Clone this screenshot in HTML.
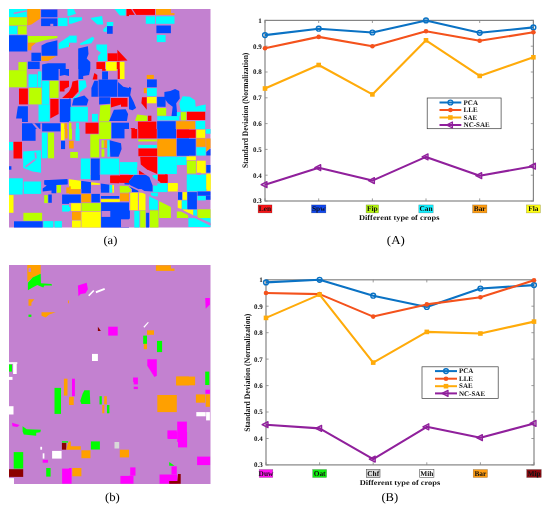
<!DOCTYPE html>
<html><head><meta charset="utf-8"><title>Figure</title>
<style>
html,body{margin:0;padding:0;background:#fff}
svg{display:block}
text{font-family:"Liberation Serif",serif;fill:#111;text-rendering:geometricPrecision}
.tk{font-size:7px;font-weight:bold}
.lg{font-size:7px;font-weight:bold}
.xl{font-size:7.4px;font-weight:bold}
.xt{font-size:7.3px;font-weight:bold}
.yt{font-size:8.4px;font-weight:bold}
.cap{font-size:12px;fill:#000}
</style></head><body>
<svg width="550" height="508" viewBox="0 0 550 508">
<rect width="550" height="508" fill="#fff"/>
<rect x="9" y="9" width="201.5" height="218.5" fill="#c381d0"/>
<g shape-rendering="auto"><polygon fill="#00ffff" points="9.0,9.0 26.7,9.0 26.7,17.0 9.0,17.0"/>
<polygon fill="#b9ff00" points="9.0,17.3 27.0,17.3 27.0,25.5 9.0,25.5"/>
<polygon fill="#00ffff" points="9.0,26.1 17.3,26.1 17.3,34.4 9.0,34.4"/>
<polygon fill="#b9ff00" points="17.9,26.1 26.7,26.1 26.7,34.4 17.9,34.4"/>
<polygon fill="#0048ff" points="9.0,35.2 27.3,35.2 27.3,51.5 9.0,51.5"/>
<polygon fill="#ffa000" points="27.3,9.0 40.3,9.0 40.3,18.4 31.4,24.4 27.3,25.5"/>
<polygon fill="#0048ff" points="41.1,9.6 57.4,9.6 57.4,17.3 41.1,17.3"/>
<polygon fill="#0048ff" points="41.1,18.4 57.4,18.4 57.4,26.1 41.1,26.1"/>
<polygon fill="#c381d0" points="50.3,23.8 53.3,23.8 53.3,26.1 50.3,26.1"/>
<polygon fill="#00ffff" points="58.0,17.9 67.5,17.9 67.5,26.1 58.0,26.1"/>
<polygon fill="#00ffff" points="67.5,9.0 69.0,9.0 69.0,16.1 67.5,16.1"/>
<polygon fill="#b9ff00" points="27.9,35.9 57.4,35.9 57.4,37.9 44.4,40.3 36.2,42.7 27.9,42.7"/>
<polygon fill="#ffa000" points="27.9,42.7 36.2,42.7 31.4,46.8 31.4,50.3 27.9,50.3"/>
<polygon fill="#0048ff" points="41.5,45.6 46.8,42.7 57.4,40.3 57.4,55.7 41.5,55.7"/>
<polygon fill="#00ffff" points="58.6,43.3 69.0,36.2 69.0,46.8 58.6,49.2"/>
<polygon fill="#0048ff" points="31.4,52.7 40.9,52.7 40.9,61.0 31.4,61.0"/>
<polygon fill="#ffa000" points="41.5,56.2 56.2,56.2 48.0,61.0 41.5,61.0"/>
<polygon fill="#0048ff" points="27.9,61.6 39.7,61.6 39.7,69.0 27.9,69.0"/>
<polygon fill="#b9ff00" points="18.4,62.1 26.7,62.1 26.7,69.0 18.4,69.0"/>
<polygon fill="#0048ff" points="42.1,64.5 48.0,63.3 65.7,63.3 65.7,69.0 42.1,69.0"/>
<polygon fill="#c381d0" points="13.7,12.5 26.7,10.2 26.7,11.4 13.7,14.3"/>
<polygon fill="#00ffff" points="69.0,9.0 73.7,9.0 76.1,13.7 69.0,16.1"/>
<polygon fill="#00ffff" points="69.0,17.3 82.0,17.3 82.0,20.2 71.4,23.8 69.0,23.8"/>
<polygon fill="#00ffff" points="90.3,17.9 102.1,16.1 103.3,24.4 97.3,24.4"/>
<polygon fill="#00ffff" points="114.5,9.0 125.7,9.0 125.7,15.5 119.8,15.5"/>
<polygon fill="#ff0000" points="126.5,9.0 129.0,9.0 129.0,16.1 126.5,16.1"/>
<polygon fill="#00ffff" points="106.8,22.0 113.3,22.0 113.3,26.1 106.8,26.1"/>
<polygon fill="#00ffff" points="103.3,29.1 106.8,26.1 106.8,32.0 103.3,31.4"/>
<polygon fill="#0048ff" points="107.0,26.1 112.7,26.1 112.7,33.8 107.0,33.8"/>
<polygon fill="#00ffff" points="69.0,35.6 76.7,35.6 76.7,42.7 69.0,42.7"/>
<polygon fill="#00ffff" points="79.6,43.8 92.6,36.8 94.4,38.5 91.4,43.3 80.8,45.0"/>
<polygon fill="#0048ff" points="78.2,48.6 87.9,46.2 88.5,53.9 86.7,58.6 90.3,62.1 90.3,69.0 78.2,69.0"/>
<polygon fill="#00ffff" points="96.4,44.4 107.0,44.4 107.0,61.0 97.9,61.0 97.9,56.2 100.9,52.7 96.4,49.2"/>
<polygon fill="#ff0000" points="107.7,53.3 117.4,53.3 117.4,61.0 107.7,61.0"/>
<polygon fill="#ff0000" points="117.4,49.7 127.5,60.4 117.4,61.0"/>
<polygon fill="#ff0000" points="96.4,62.1 105.0,62.1 105.0,69.0 96.4,69.0"/>
<polygon fill="#ffff00" points="105.9,61.8 116.8,61.8 116.8,69.0 105.9,69.0"/>
<polygon fill="#ff0000" points="116.8,61.8 119.8,61.8 119.8,69.0 116.8,69.0"/>
<polygon fill="#ffff00" points="119.8,61.8 124.5,61.8 124.5,69.0 119.8,69.0"/>
<polygon fill="#ffa000" points="69.0,45.0 69.9,45.0 69.9,46.8 69.0,46.8"/>
<polygon fill="#ff0000" points="129.0,9.0 155.0,9.0 155.0,14.9 129.0,14.9"/>
<polygon fill="#c381d0" points="131.1,9.0 132.5,9.0 136.3,14.9 134.9,14.9"/>
<polygon fill="#ffa000" points="155.9,9.0 170.9,9.0 170.9,14.9 155.9,14.9"/>
<polygon fill="#ffa000" points="170.9,13.1 174.5,13.1 174.5,14.9 170.9,14.9"/>
<polygon fill="#00ffff" points="145.8,16.3 155.0,16.3 155.0,23.8 145.8,23.8"/>
<polygon fill="#00ffff" points="155.9,16.3 174.5,16.3 174.5,23.8 155.9,23.8"/>
<polygon fill="#0048ff" points="156.4,25.5 170.9,25.5 170.9,33.2 156.4,33.2"/>
<polygon fill="#00ffff" points="156.8,35.0 165.6,35.0 165.6,42.1 156.8,42.1"/>
<polygon fill="#b9ff00" points="9.0,70.2 26.7,70.2 26.7,87.3 9.0,87.3"/>
<polygon fill="#b9ff00" points="18.4,69.0 26.7,69.0 26.7,70.4 18.4,70.4"/>
<polygon fill="#00ffff" points="28.5,74.3 37.3,74.3 37.3,87.3 28.5,87.3"/>
<polygon fill="#00ffff" points="37.9,71.4 41.5,71.4 41.5,87.3 37.9,87.3"/>
<polygon fill="#00ffff" points="42.1,80.8 49.2,80.8 49.2,104.4 42.1,104.4"/>
<polygon fill="#00ffff" points="38.5,104.4 49.7,104.4 49.7,121.6 38.5,121.6"/>
<polygon fill="#0048ff" points="42.1,69.0 58.6,69.0 58.6,80.2 42.1,80.2"/>
<polygon fill="#0048ff" points="59.8,69.0 69.0,69.0 69.0,76.1 64.5,74.9 59.8,76.1"/>
<polygon fill="#b9ff00" points="49.7,80.8 58.6,80.8 58.6,97.9 49.7,97.9"/>
<polygon fill="#ff0000" points="59.8,80.8 69.0,80.8 69.0,86.7 64.5,89.1 64.5,91.4 59.8,91.4"/>
<polygon fill="#ff0000" points="69.0,91.4 69.0,97.9 62.1,97.9"/>
<polygon fill="#ff0000" points="19.0,88.5 27.9,88.5 27.9,104.4 19.0,104.4"/>
<polygon fill="#b9ff00" points="28.8,87.9 41.5,87.9 41.5,104.4 28.8,104.4"/>
<polygon fill="#ff0000" points="50.3,99.1 58.6,99.1 58.6,113.9 50.3,118.6"/>
<polygon fill="#0048ff" points="59.8,99.1 69.0,99.1 69.0,122.1 59.8,122.1"/>
<polygon fill="#0048ff" points="17.9,106.2 27.9,106.2 27.9,122.1 22.0,122.1 22.0,118.6 16.1,118.6"/>
<polygon fill="#0048ff" points="22.0,123.3 60.4,123.3 60.4,129.0 22.0,129.0"/>
<polygon fill="#c381d0" points="32.0,123.3 34.4,123.3 39.7,129.0 36.8,129.0"/>
<polygon fill="#c381d0" points="40.3,123.3 42.1,123.3 42.1,129.0 40.3,129.0"/>
<polygon fill="#ffff00" points="61.0,123.3 64.5,123.3 64.5,129.0 61.0,129.0"/>
<polygon fill="#ffa000" points="64.5,123.3 66.9,123.3 66.9,129.0 64.5,129.0"/>
<polygon fill="#0048ff" points="78.4,69.0 90.3,69.0 89.1,74.9 83.2,76.1 83.2,79.0 78.4,79.0"/>
<polygon fill="#ff0000" points="94.4,73.1 97.3,74.9 97.3,79.6 92.6,79.6"/>
<polygon fill="#ff0000" points="102.1,69.0 105.6,69.0 105.6,70.8 102.1,70.8"/>
<polygon fill="#ffff00" points="106.2,69.0 116.8,69.0 116.8,70.8 106.2,70.8"/>
<polygon fill="#ff0000" points="117.7,69.0 119.8,69.0 119.8,79.0 117.7,79.0"/>
<polygon fill="#ffff00" points="120.0,69.0 124.5,69.0 124.5,79.0 120.0,79.0"/>
<polygon fill="#0048ff" points="102.1,71.4 108.0,71.4 108.0,79.6 102.1,79.6"/>
<polygon fill="#0048ff" points="98.5,79.6 117.4,79.6 117.4,96.8 98.5,96.8"/>
<polygon fill="#0048ff" points="94.4,80.8 97.9,80.8 97.9,96.8 91.4,96.8 91.4,87.9"/>
<polygon fill="#0048ff" points="118.0,82.0 123.3,86.7 129.0,87.9 129.0,96.8 118.0,96.8"/>
<polygon fill="#ff0000" points="72.5,81.4 77.9,80.2 78.4,91.4 72.5,97.9 69.0,97.9 69.0,91.4 71.4,86.7"/>
<polygon fill="#00ffff" points="79.0,80.8 85.5,80.2 86.7,86.7 80.8,91.4 79.0,93.8"/>
<polygon fill="#00ffff" points="72.5,99.1 79.0,93.2 80.2,94.4 73.7,100.3"/>
<polygon fill="#0048ff" points="73.7,98.5 84.4,95.6 88.5,99.7 86.7,105.6 72.0,105.6"/>
<polygon fill="#0048ff" points="69.0,98.5 70.8,98.5 70.8,121.0 69.0,121.0"/>
<polygon fill="#00ffff" points="70.4,106.8 87.9,106.8 87.9,121.6 70.4,121.6"/>
<polygon fill="#00ffff" points="92.0,113.9 97.9,113.9 97.9,121.6 92.0,121.6"/>
<polygon fill="#0048ff" points="99.1,97.3 110.3,97.3 110.3,103.8 99.1,104.4"/>
<polygon fill="#ff0000" points="110.9,97.9 127.5,97.9 127.5,106.8 121.0,106.8 121.0,104.4 110.9,107.4"/>
<polygon fill="#b9ff00" points="100.3,105.6 110.3,104.4 110.3,116.2 109.2,121.6 99.1,121.6"/>
<polygon fill="#0048ff" points="113.9,109.7 125.7,109.2 128.1,113.9 126.9,121.0 109.2,121.0"/>
<polygon fill="#b9ff00" points="69.0,122.7 71.4,122.7 71.4,129.0 69.0,129.0"/>
<polygon fill="#00ffff" points="76.1,122.7 79.0,122.7 79.0,129.0 76.1,129.0"/>
<polygon fill="#ff0000" points="85.5,122.7 98.5,122.7 98.5,129.0 85.5,129.0"/>
<polygon fill="#b9ff00" points="99.1,122.1 110.9,122.1 110.9,129.0 99.1,129.0"/>
<polygon fill="#0048ff" points="111.5,122.7 129.0,122.7 129.0,129.0 111.5,129.0"/>
<polygon fill="#ffa000" points="146.7,74.9 153.8,74.9 153.8,79.0 146.7,79.0"/>
<polygon fill="#0048ff" points="147.0,79.4 156.8,79.4 156.8,87.3 147.0,87.3"/>
<polygon fill="#ffa000" points="143.8,87.9 146.7,87.9 146.7,93.2 143.8,93.2"/>
<polygon fill="#00ffff" points="147.0,88.1 156.8,88.1 156.8,96.2 147.0,96.2"/>
<polygon fill="#ffff00" points="147.0,97.0 156.4,97.0 156.4,103.3 147.0,103.3"/>
<polygon fill="#ff0000" points="142.0,97.3 146.7,97.3 146.7,109.7 144.4,106.8 141.4,103.3"/>
<polygon fill="#0048ff" points="129.0,86.7 131.4,87.9 130.2,95.0 133.7,102.1 136.1,108.0 132.5,110.3 129.0,109.2"/>
<polygon fill="#0048ff" points="157.1,96.8 165.6,96.8 165.6,106.8 157.1,106.8"/>
<polygon fill="#0048ff" points="164.4,92.0 170.3,90.9 175.1,89.1 179.2,90.9 179.8,98.5 176.2,103.3 177.4,116.2 171.5,116.2 172.7,106.8 168.0,103.3 164.4,98.5"/>
<polygon fill="#b9ff00" points="157.1,108.0 166.2,108.0 166.2,115.7 157.1,115.7"/>
<polygon fill="#00ffff" points="157.3,116.2 179.2,116.2 179.2,120.4 157.3,120.4"/>
<polygon fill="#00ffff" points="176.8,112.1 180.4,112.1 180.4,116.2 176.8,116.2"/>
<polygon fill="#b9ff00" points="137.3,114.5 147.3,115.7 147.3,121.0 134.9,121.0"/>
<polygon fill="#ff0000" points="147.9,115.7 151.4,115.7 151.4,121.0 147.9,121.0"/>
<polygon fill="#ff0000" points="137.9,121.6 156.4,121.6 156.4,129.0 137.9,129.0"/>
<polygon fill="#0048ff" points="157.1,121.2 175.7,121.2 175.7,129.0 157.1,129.0"/>
<polygon fill="#ff0000" points="130.8,128.1 134.9,128.1 134.9,129.0 130.8,129.0"/>
<polygon fill="#00ffff" points="182.7,96.2 189.8,96.8 195.1,100.3 195.7,106.8 200.4,105.6 205.7,104.4 205.7,111.5 180.9,111.5 179.2,103.3"/>
<polygon fill="#ff0000" points="186.9,111.8 205.2,111.8 205.2,120.0 186.9,120.0"/>
<polygon fill="#b9ff00" points="180.9,112.1 186.3,112.1 186.3,120.4 180.9,120.4"/>
<polygon fill="#ffa000" points="176.2,121.2 195.1,121.2 195.1,129.0 176.2,129.0"/>
<polygon fill="#00ffff" points="195.7,121.0 205.2,121.0 205.2,129.0 195.7,129.0"/>
<polygon fill="#0048ff" points="22.0,129.0 35.6,129.0 35.6,140.8 22.0,140.8"/>
<polygon fill="#0048ff" points="42.1,129.0 60.4,129.0 60.4,131.4 42.1,131.4"/>
<polygon fill="#ffff00" points="61.0,129.0 64.5,129.0 64.5,140.2 61.0,140.2"/>
<polygon fill="#ffa000" points="65.1,129.0 67.5,129.0 67.5,138.4 65.1,138.4"/>
<polygon fill="#00ffff" points="9.0,142.0 13.1,142.0 13.1,150.3 9.0,150.3"/>
<polygon fill="#ff0000" points="13.5,141.8 22.0,141.8 22.0,158.5 13.5,158.5"/>
<polygon fill="#00ffff" points="41.8,132.5 47.4,132.5 47.4,158.3 41.8,158.3"/>
<polygon fill="#b9ff00" points="48.0,132.5 54.1,132.5 54.1,158.3 48.0,158.3"/>
<polygon fill="#0048ff" points="61.0,140.8 65.1,140.8 65.1,149.1 61.0,149.1"/>
<polygon fill="#00ffff" points="23.2,151.4 40.9,150.3 41.1,172.7 32.6,171.5 23.2,168.0"/>
<polygon fill="#c381d0" points="24.9,166.2 34.4,159.1 35.6,160.3 26.1,167.4"/>
<polygon fill="#c381d0" points="34.4,152.6 36.2,152.6 36.8,158.5 35.0,158.5"/>
<polygon fill="#0048ff" points="9.0,166.2 11.4,166.2 11.4,169.7 9.0,169.7"/>
<polygon fill="#00ffff" points="9.0,178.6 22.6,178.6 22.6,189.0 9.0,189.0"/>
<polygon fill="#00ffff" points="23.8,182.1 40.9,182.1 40.9,189.0 23.8,189.0"/>
<polygon fill="#0048ff" points="44.4,180.4 67.5,180.4 67.5,184.5 44.4,184.5"/>
<polygon fill="#0048ff" points="46.8,184.5 56.2,184.5 56.2,189.0 46.8,189.0"/>
<polygon fill="#b9ff00" points="56.8,185.7 61.0,185.7 61.0,189.0 56.8,189.0"/>
<polygon fill="#b9ff00" points="69.0,129.0 72.0,129.0 72.0,139.6 69.0,139.6"/>
<polygon fill="#00ffff" points="75.5,129.0 79.6,129.0 79.6,140.8 75.5,140.8"/>
<polygon fill="#ff0000" points="85.5,129.0 98.5,129.0 98.5,133.7 85.5,133.7"/>
<polygon fill="#b9ff00" points="99.1,129.0 110.9,129.0 110.9,139.0 99.1,139.0"/>
<polygon fill="#0048ff" points="111.5,129.0 124.5,129.0 124.5,138.4 111.5,138.4"/>
<polygon fill="#b9ff00" points="90.3,134.3 99.1,134.3 99.1,157.3 90.3,157.3"/>
<polygon fill="#ffa000" points="69.0,140.8 73.7,140.8 73.7,148.5 69.0,148.5"/>
<polygon fill="#b9ff00" points="70.2,152.0 77.9,152.0 77.9,157.9 70.2,157.9"/>
<polygon fill="#b9ff00" points="101.5,140.2 103.8,140.2 103.8,147.9 101.5,147.9"/>
<polygon fill="#ffa000" points="104.4,140.2 106.8,140.2 106.8,147.9 104.4,147.9"/>
<polygon fill="#00ffff" points="107.4,140.2 109.7,140.2 109.7,156.8 107.4,156.8"/>
<polygon fill="#b9ff00" points="101.5,149.1 104.4,149.1 104.4,156.8 101.5,156.8"/>
<polygon fill="#0048ff" points="109.7,140.2 121.0,143.2 121.6,149.1 118.6,156.8 110.3,156.8"/>
<polygon fill="#00ffff" points="80.8,158.5 90.3,158.5 90.3,178.6 80.8,178.6"/>
<polygon fill="#0048ff" points="90.9,158.5 99.7,158.5 99.7,179.8 90.9,179.8"/>
<polygon fill="#00ffff" points="100.3,158.5 119.2,158.5 119.2,174.5 100.3,174.5"/>
<polygon fill="#00ffff" points="119.8,162.1 129.0,162.1 129.0,173.9 119.8,173.9"/>
<polygon fill="#ff0000" points="110.3,175.7 119.2,175.7 119.2,183.3 110.3,183.3"/>
<polygon fill="#ff0000" points="120.0,175.1 129.0,175.1 129.0,182.7 120.0,182.7"/>
<polygon fill="#ffff00" points="69.0,179.2 80.8,179.2 80.8,189.0 69.0,189.0"/>
<polygon fill="#0048ff" points="81.4,181.0 90.9,181.0 90.9,189.0 81.4,189.0"/>
<polygon fill="#ffff00" points="91.4,182.1 99.7,182.1 99.7,184.5 91.4,184.5"/>
<polygon fill="#0048ff" points="100.9,183.3 109.2,183.3 109.2,189.0 100.9,189.0"/>
<polygon fill="#00ffff" points="109.7,184.5 112.1,184.5 112.1,189.0 109.7,189.0"/>
<polygon fill="#ffff00" points="112.5,184.5 113.9,184.5 113.9,189.0 112.5,189.0"/>
<polygon fill="#b9ff00" points="119.8,185.7 129.0,185.7 129.0,189.0 119.8,189.0"/>
<polygon fill="#0048ff" points="124.5,182.7 129.0,182.7 129.0,185.1 124.5,185.1"/>
<polygon fill="#ff0000" points="131.4,129.0 137.3,129.0 137.3,138.4 131.4,138.4"/>
<polygon fill="#ff0000" points="138.2,129.0 156.8,129.0 156.8,138.4 138.2,138.4"/>
<polygon fill="#0048ff" points="157.3,129.0 176.0,129.0 176.0,138.4 157.3,138.4"/>
<polygon fill="#ff0000" points="176.8,129.6 189.0,129.6 189.0,137.9 176.8,137.9"/>
<polygon fill="#b9ff00" points="138.2,139.4 156.8,139.4 156.8,141.4 138.2,141.4"/>
<polygon fill="#00ffff" points="138.2,144.9 156.8,144.9 156.8,147.9 138.2,147.9"/>
<polygon fill="#ffa000" points="157.3,139.0 176.2,139.0 176.2,156.2 157.3,156.2"/>
<polygon fill="#0048ff" points="176.8,138.4 189.0,138.4 189.0,155.6 176.8,155.6"/>
<polygon fill="#ff0000" points="138.4,148.5 157.1,148.5 157.1,156.2 138.4,156.2"/>
<polygon fill="#ff0000" points="140.2,156.8 157.1,156.8 157.1,173.9 146.7,169.2 140.8,164.4"/>
<polygon fill="#00ffff" points="157.9,156.8 176.2,156.8 176.2,173.9 157.9,173.9"/>
<polygon fill="#c381d0" points="166.2,156.8 167.4,156.8 167.4,168.0 166.2,168.0"/>
<polygon fill="#00ffff" points="176.8,156.8 186.3,156.8 186.3,165.0 176.8,165.0"/>
<polygon fill="#00ffff" points="129.0,162.1 137.3,162.1 137.3,174.5 129.0,174.5"/>
<polygon fill="#ff0000" points="129.0,175.1 133.7,175.1 129.0,181.0"/>
<polygon fill="#ff0000" points="139.0,169.7 146.7,174.5 139.0,174.5"/>
<polygon fill="#0048ff" points="137.9,175.1 148.5,175.1 151.4,185.7 147.9,189.0 131.4,189.0 129.0,185.7 133.7,178.6"/>
<polygon fill="#ff0000" points="157.9,174.5 167.4,174.5 167.4,182.7 157.9,182.7"/>
<polygon fill="#00ffff" points="152.6,175.1 157.3,175.1 157.3,179.8 152.6,179.8"/>
<polygon fill="#00ffff" points="157.3,183.3 166.8,183.3 166.8,189.0 157.3,189.0"/>
<polygon fill="#ffff00" points="168.0,183.3 177.4,183.3 177.4,189.0 168.0,189.0"/>
<polygon fill="#ff0000" points="176.8,129.6 195.7,129.6 195.7,137.9 176.8,137.9"/>
<polygon fill="#ffff00" points="196.3,129.6 205.2,129.6 205.2,137.9 196.3,137.9"/>
<polygon fill="#00ffff" points="205.7,129.0 210.5,129.0 210.5,133.7 205.7,133.7"/>
<polygon fill="#0048ff" points="177.0,138.7 195.7,138.7 195.7,155.6 177.0,155.6"/>
<polygon fill="#ffa000" points="196.3,138.4 205.7,138.4 205.7,146.7 196.3,146.7"/>
<polygon fill="#ffa000" points="206.1,138.4 210.5,138.4 210.5,147.9 206.3,151.4"/>
<polygon fill="#0048ff" points="206.3,152.0 210.5,148.5 210.5,155.6 206.3,155.6"/>
<polygon fill="#00ffff" points="196.3,147.3 205.7,147.3 205.7,155.6 196.3,155.6"/>
<polygon fill="#00ffff" points="165.0,156.8 176.8,156.8 176.8,173.9 165.0,173.9"/>
<polygon fill="#00ffff" points="177.0,156.8 186.3,156.8 186.3,165.0 177.0,165.0"/>
<polygon fill="#ffff00" points="186.5,156.4 195.9,156.4 195.9,160.3 186.5,160.3"/>
<polygon fill="#b9ff00" points="186.9,160.9 195.9,160.9 195.9,173.6 186.9,173.6"/>
<polygon fill="#ffff00" points="196.7,160.7 205.7,160.7 205.7,173.3 196.7,173.3"/>
<polygon fill="#0048ff" points="206.3,165.0 210.5,165.0 210.5,172.7 206.3,172.7"/>
<polygon fill="#00ffff" points="186.9,174.5 205.7,174.5 205.7,189.0 186.9,189.0"/>
<polygon fill="#c381d0" points="196.9,172.7 201.0,172.7 201.0,175.7 196.9,175.7"/>
<polygon fill="#ffff00" points="206.3,173.6 210.5,173.6 210.5,189.0 206.3,189.0"/>
<polygon fill="#ff0000" points="165.0,174.5 167.4,174.5 167.4,182.7 165.0,182.7"/>
<polygon fill="#ffff00" points="168.0,183.3 177.4,183.3 177.4,189.0 168.0,189.0"/>
<polygon fill="#00ffff" points="165.0,183.3 167.4,183.3 167.4,189.0 165.0,189.0"/>
<polygon fill="#00ffff" points="9.0,178.5 22.6,178.5 22.6,194.5 9.0,194.5"/>
<polygon fill="#00ffff" points="23.8,181.5 41.1,181.5 41.1,193.9 23.8,193.9"/>
<polygon fill="#0048ff" points="44.4,180.3 67.5,179.1 67.5,183.9 61.0,184.4 56.2,185.0 56.2,193.3 51.5,193.3 51.5,190.4 42.7,191.5 42.7,188.6 46.8,185.6 44.4,184.4"/>
<polygon fill="#b9ff00" points="56.8,185.0 61.0,185.0 61.0,192.7 56.8,192.7"/>
<polygon fill="#ffa000" points="66.3,187.4 69.0,187.4 69.0,193.3 66.3,193.3"/>
<polygon fill="#b9ff00" points="44.2,195.1 47.7,195.1 47.7,203.1 44.2,203.1"/>
<polygon fill="#0048ff" points="48.3,194.5 51.8,194.5 51.8,202.8 48.3,202.8"/>
<polygon fill="#0048ff" points="62.1,194.5 69.0,194.5 69.0,203.9 62.1,203.9"/>
<polygon fill="#00ffff" points="62.1,205.1 69.0,205.1 69.0,211.6 62.1,211.6"/>
<polygon fill="#ffff00" points="9.0,195.1 13.5,195.1 13.5,212.8 9.0,212.8"/>
<polygon fill="#b9ff00" points="23.4,212.8 42.1,212.8 42.1,220.8 23.4,220.8"/>
<polygon fill="#0048ff" points="14.0,221.3 42.7,221.3 42.7,227.5 14.0,227.5"/>
<polygon fill="#00ffff" points="43.3,221.1 53.3,221.1 53.3,227.5 43.3,227.5"/>
<polygon fill="#00ffff" points="54.5,221.1 61.9,221.1 61.9,227.5 54.5,227.5"/>
<polygon fill="#00ffff" points="80.8,175.0 90.3,175.0 90.3,179.1 80.8,179.1"/>
<polygon fill="#0048ff" points="90.9,175.0 99.7,175.0 99.7,180.3 90.9,180.3"/>
<polygon fill="#ff0000" points="110.3,175.6 129.0,175.6 129.0,182.7 110.3,182.7"/>
<polygon fill="#ffff00" points="69.0,179.1 80.8,179.1 80.8,189.2 69.0,189.2"/>
<polygon fill="#ffa000" points="69.0,189.2 80.8,189.2 80.8,193.9 69.0,193.9"/>
<polygon fill="#ffa000" points="69.0,186.2 70.8,186.2 70.8,189.2 69.0,189.2"/>
<polygon fill="#0048ff" points="81.4,180.9 90.9,180.9 90.9,193.3 81.4,193.3"/>
<polygon fill="#ffff00" points="91.4,182.1 99.9,182.1 99.9,184.7 91.4,184.7"/>
<polygon fill="#0048ff" points="100.9,183.3 109.2,183.3 109.2,192.7 100.9,192.7"/>
<polygon fill="#00ffff" points="109.7,185.0 112.1,185.0 112.1,192.7 109.7,192.7"/>
<polygon fill="#ffff00" points="112.5,185.0 113.9,185.0 113.9,192.7 112.5,192.7"/>
<polygon fill="#b9ff00" points="119.8,185.6 129.0,185.6 129.0,192.7 119.8,192.7"/>
<polygon fill="#0048ff" points="69.0,194.5 80.8,194.5 80.8,202.8 69.0,202.8"/>
<polygon fill="#ffa000" points="81.4,193.9 90.9,193.9 90.9,202.4 81.4,202.4"/>
<polygon fill="#0048ff" points="91.4,193.9 99.9,193.9 99.9,202.4 91.4,202.4"/>
<polygon fill="#0048ff" points="100.9,196.0 119.2,196.0 119.2,198.6 100.9,198.6"/>
<polygon fill="#ffff00" points="100.9,199.2 119.8,199.2 119.8,201.9 100.9,201.9"/>
<polygon fill="#ffa000" points="120.0,193.3 129.0,193.3 129.0,201.2 120.0,201.2"/>
<polygon fill="#ffff00" points="71.1,203.3 80.8,203.3 80.8,211.0 71.1,211.0"/>
<polygon fill="#b9ff00" points="81.4,203.1 100.7,203.1 100.7,211.0 81.4,211.0"/>
<polygon fill="#0048ff" points="101.1,202.4 129.0,202.4 129.0,227.5 101.1,227.5"/>
<polygon fill="#c381d0" points="101.5,211.0 110.3,211.0 110.3,216.9 101.5,216.9"/>
<polygon fill="#c381d0" points="121.0,219.3 129.0,219.3 129.0,227.5 121.0,227.5"/>
<polygon fill="#ffa000" points="72.0,211.6 80.8,211.6 80.8,219.9 72.0,219.9"/>
<polygon fill="#ffff00" points="81.4,211.6 100.7,211.6 100.7,227.5 81.4,227.5"/>
<polygon fill="#ffff00" points="72.0,220.5 80.8,220.5 80.8,227.5 72.0,227.5"/>
<polygon fill="#00ffff" points="69.0,206.9 70.4,206.9 70.4,211.0 69.0,211.0"/>
<polygon fill="#ff0000" points="129.0,175.0 133.7,175.0 129.0,180.3"/>
<polygon fill="#0048ff" points="134.3,175.0 148.5,175.0 152.6,185.6 152.6,191.5 144.4,190.9 136.1,185.6 129.0,184.4 129.0,180.9"/>
<polygon fill="#0048ff" points="132.0,187.4 138.4,187.4 138.4,192.1 132.0,192.1"/>
<polygon fill="#ff0000" points="157.9,175.0 167.4,175.0 167.4,182.7 157.9,182.7"/>
<polygon fill="#00ffff" points="153.2,175.0 157.3,175.0 157.3,178.5 153.2,178.5"/>
<polygon fill="#00ffff" points="153.2,185.6 167.4,185.6 167.4,192.1 153.2,192.1"/>
<polygon fill="#ffff00" points="168.0,183.3 177.7,183.3 177.7,191.5 168.0,191.5"/>
<polygon fill="#00ffff" points="186.9,175.0 189.0,175.0 189.0,191.5 186.9,191.5"/>
<polygon fill="#b9ff00" points="129.0,188.0 130.8,188.0 130.8,192.1 129.0,192.1"/>
<polygon fill="#ffff00" points="130.2,192.7 145.5,192.7 145.5,210.2 130.2,210.2"/>
<polygon fill="#c381d0" points="137.9,192.7 139.0,192.7 139.0,210.2 137.9,210.2"/>
<polygon fill="#00ffff" points="149.1,196.3 157.9,200.4 157.9,209.8 149.1,209.8"/>
<polygon fill="#00ffff" points="150.9,192.7 157.9,192.7 157.9,196.3 150.9,196.3"/>
<polygon fill="#b9ff00" points="159.1,201.0 170.9,206.9 170.9,218.1 159.1,218.1"/>
<polygon fill="#0048ff" points="178.0,192.1 182.1,192.1 182.1,199.8 178.0,199.8"/>
<polygon fill="#ffff00" points="182.7,192.1 186.9,192.1 186.9,199.8 182.7,199.8"/>
<polygon fill="#0048ff" points="187.5,192.1 189.0,192.1 189.0,209.3 187.5,209.3"/>
<polygon fill="#ffff00" points="177.7,200.4 181.6,200.4 181.6,208.7 177.7,208.7"/>
<polygon fill="#00ffff" points="181.9,200.4 187.1,200.4 187.1,209.3 181.9,209.3"/>
<polygon fill="#ffff00" points="182.7,209.8 189.0,209.8 189.0,214.0"/>
<polygon fill="#b9ff00" points="176.8,211.6 181.0,211.6 188.1,215.2 188.1,218.1 176.8,218.1"/>
<polygon fill="#00ffff" points="134.3,211.0 139.4,211.0 139.4,227.5 134.3,227.5"/>
<polygon fill="#b9ff00" points="140.2,210.4 145.5,210.4 145.5,227.5 140.2,227.5"/>
<polygon fill="#0048ff" points="146.1,212.8 149.1,212.8 149.1,227.5 146.1,227.5"/>
<polygon fill="#b9ff00" points="150.0,210.4 158.5,210.4 158.5,227.5 150.0,227.5"/>
<polygon fill="#0048ff" points="129.0,210.4 129.9,210.4 129.9,218.7 129.0,218.7"/>
<polygon fill="#00ffff" points="186.9,175.0 206.1,175.0 206.1,191.3 186.9,191.3"/>
<polygon fill="#ffff00" points="206.6,175.0 210.5,175.0 210.5,190.9 206.6,190.9"/>
<polygon fill="#0048ff" points="187.7,192.1 196.9,192.1 196.9,209.3 187.7,209.3"/>
<polygon fill="#0048ff" points="197.5,191.5 210.5,191.5 210.5,195.7 197.5,195.7"/>
<polygon fill="#0048ff" points="205.7,195.7 210.5,195.7 210.5,199.8 205.7,199.8"/>
<polygon fill="#00ffff" points="197.5,196.0 205.7,196.0 205.7,200.4 197.5,200.4"/>
<polygon fill="#ffff00" points="182.7,209.8 193.3,209.8 193.3,215.7"/>
<polygon fill="#00ffff" points="193.3,209.8 196.9,209.8 196.9,215.7 193.3,215.7"/>
<polygon fill="#b9ff00" points="197.5,209.3 210.5,209.3 210.5,218.1 197.5,218.1"/>
<polygon fill="#00ffff" points="188.4,218.1 210.5,218.1 210.5,227.0 188.4,227.0"/>
<polygon fill="#c381d0" points="193.9,215.7 210.5,222.8 210.5,224.6 193.3,217.3"/></g>
<path d="M68 178.3 L110 184 L129 185.5 L189 214 L210.5 225" stroke="#c381d0" stroke-width="1.6" fill="none"/>
<path d="M137 168 L160 183" stroke="#c381d0" stroke-width="1.8" fill="none"/>
<rect x="9" y="265" width="201.5" height="219" fill="#c381d0"/>
<g><polygon fill="#ffa000" points="27.3,265.0 40.7,265.0 40.7,273.8 32.6,277.4 27.3,282.1"/>
<polygon fill="#00ff00" points="40.7,273.8 40.9,283.3 51.5,283.9 52.1,285.6 44.4,285.6 43.3,287.4 37.3,285.0 32.6,287.4 27.9,290.3 27.9,282.7 32.6,277.4"/>
<polygon fill="#ffa000" points="28.5,299.2 34.4,299.2 31.4,302.7 31.4,305.7 28.5,305.7"/>
<polygon fill="#ffa000" points="41.5,312.2 55.7,312.2 49.2,314.6 45.6,317.5 41.5,315.7"/>
<polygon fill="#00ff00" points="28.5,314.6 31.4,314.6 31.4,316.9 28.5,316.9"/>
<polygon fill="#ffa000" points="68.1,300.4 69.0,300.4 69.0,303.3 68.1,303.3"/>
<polygon fill="#c381d0" points="28.5,267.9 30.9,267.9 30.9,272.0 28.5,272.0"/>
<polygon fill="#ff00ff" points="77.9,285.6 86.7,282.7 87.9,289.2 85.5,293.3 80.8,293.9 78.4,296.3"/>
<polygon fill="#ffffff" points="88.1,295.3 93.2,290.1 94.4,290.9 89.3,296.3"/>
<polygon fill="#ffffff" points="95.6,291.3 104.4,288.0 105.0,289.8 96.2,293.3"/>
<polygon fill="#ffa000" points="155.9,265.3 170.9,265.3 170.9,270.9 155.9,270.9"/>
<polygon fill="#ffa000" points="170.9,268.5 174.5,268.5 174.5,270.9 170.9,270.9"/>
<polygon fill="#ff00ff" points="205.2,298.0 209.9,298.0 209.9,304.5 205.7,308.7"/>
<polygon fill="#ffffff" points="9.0,362.2 17.3,362.2 17.3,363.9 9.0,363.9"/>
<polygon fill="#ffffff" points="13.1,363.9 16.7,363.9 16.7,374.0 13.1,374.0"/>
<polygon fill="#00ff00" points="9.0,364.5 12.0,364.5 12.0,371.6 9.0,371.6"/>
<polygon fill="#ffffff" points="9.0,376.9 12.5,376.9 12.5,379.9 9.0,379.9"/>
<polygon fill="#ffa000" points="63.9,378.7 67.5,378.7 67.5,382.0 63.9,382.0"/>
<polygon fill="#8b0000" points="97.9,326.7 100.9,330.9 97.9,330.9"/>
<polygon fill="#ff00ff" points="108.2,326.7 117.7,326.7 117.7,335.6 108.2,335.6"/>
<polygon fill="#ffffff" points="92.0,353.9 97.9,353.9 97.9,361.0 92.0,361.0"/>
<polygon fill="#ff00ff" points="72.0,378.7 74.9,378.7 74.9,382.0 72.0,382.0"/>
<polygon fill="#ffffff" points="143.4,326.7 147.9,322.0 148.8,322.6 144.4,327.7"/>
<polygon fill="#ffa000" points="147.0,330.3 154.0,330.3 154.0,334.8 147.0,334.8"/>
<polygon fill="#00ff00" points="143.2,335.6 147.0,335.6 147.0,343.9 143.2,343.9"/>
<polygon fill="#ffa000" points="143.8,343.9 147.0,343.9 147.0,349.2 143.8,349.2"/>
<polygon fill="#00ff00" points="157.0,340.9 162.1,340.9 162.1,352.1 157.0,352.1"/>
<polygon fill="#ff00ff" points="147.3,359.2 156.8,359.2 156.8,375.7 154.4,376.9 147.3,365.7"/>
<polygon fill="#ff00ff" points="133.1,377.5 137.9,377.5 137.9,382.0 133.1,382.0"/>
<polygon fill="#ffa000" points="176.2,376.6 189.0,376.6 189.0,382.0 176.2,382.0"/>
<polygon fill="#ffa000" points="176.2,376.6 195.1,376.6 195.1,382.0 176.2,382.0"/>
<polygon fill="#00ff00" points="205.2,371.6 209.3,371.6 209.3,382.0 205.2,382.0"/>
<polygon fill="#ffa000" points="63.9,382.0 67.5,382.0 67.5,395.6 63.9,395.6"/>
<polygon fill="#00ff00" points="54.5,387.9 61.0,387.9 61.0,413.9 54.5,413.9"/>
<polygon fill="#ffffff" points="9.0,406.2 13.5,406.2 13.5,414.5 9.0,414.5"/>
<polygon fill="#ff00ff" points="12.0,422.7 19.6,425.1 17.3,426.9 12.5,426.3"/>
<polygon fill="#00ff00" points="22.6,426.3 26.7,429.2 40.9,429.8 40.3,432.2 36.2,432.8 36.2,435.7 23.8,434.6 22.6,431.6"/>
<polygon fill="#ff00ff" points="72.0,382.0 74.9,382.0 74.9,396.2 72.0,396.2"/>
<polygon fill="#ffa000" points="69.0,396.8 73.7,396.8 73.7,405.0 69.0,405.0"/>
<polygon fill="#00ff00" points="84.4,390.3 89.7,390.3 90.3,403.9 81.4,403.9 80.2,400.9 82.6,393.8"/>
<polygon fill="#00ff00" points="99.5,396.2 101.8,396.2 101.8,404.4 99.5,404.4"/>
<polygon fill="#ffa000" points="104.2,396.2 106.8,396.2 106.8,404.4 104.2,404.4"/>
<polygon fill="#ffa000" points="102.3,405.0 104.4,405.0 104.4,413.3 102.3,413.3"/>
<polygon fill="#00ff00" points="107.0,405.0 109.4,405.0 109.4,413.3 107.0,413.3"/>
<polygon fill="#ff00ff" points="133.7,382.0 137.9,382.0 137.9,384.4 133.7,384.4"/>
<polygon fill="#ff00ff" points="133.7,386.7 137.9,386.7 137.9,389.1 133.7,389.1"/>
<polygon fill="#ffa000" points="176.2,382.0 189.0,382.0 189.0,385.3 176.2,385.3"/>
<polygon fill="#ffa000" points="157.3,395.0 176.8,395.0 176.8,412.1 157.3,412.1"/>
<polygon fill="#ff00ff" points="177.2,421.6 186.9,421.6 186.9,442.0 177.2,442.0"/>
<polygon fill="#ff00ff" points="167.4,430.4 176.8,430.4 176.8,438.7 167.4,438.7"/>
<polygon fill="#ffa000" points="176.2,382.0 195.1,382.0 195.1,385.3 176.2,385.3"/>
<polygon fill="#00ff00" points="205.2,382.0 209.3,382.0 209.3,385.0 205.2,385.0"/>
<polygon fill="#ff00ff" points="205.4,389.7 209.9,389.7 209.9,393.8 205.4,393.8"/>
<polygon fill="#ffa000" points="195.9,394.4 205.2,394.4 205.2,402.7 195.9,402.7"/>
<polygon fill="#ffa000" points="205.7,394.4 209.9,394.4 209.9,406.8 205.7,406.8"/>
<polygon fill="#ffffff" points="196.3,412.1 205.7,412.1 205.7,416.3 196.3,416.3"/>
<polygon fill="#ffffff" points="206.1,412.1 209.9,412.1 209.9,420.4 206.1,420.4"/>
<polygon fill="#00ff00" points="13.7,452.1 23.2,452.1 23.2,468.6 13.7,468.6"/>
<polygon fill="#8b0000" points="9.0,469.2 23.2,469.2 23.2,476.9 9.0,476.9"/>
<polygon fill="#ffffff" points="9.0,478.1 14.0,478.1 14.0,484.0 9.0,484.0"/>
<polygon fill="#ffffff" points="40.3,446.8 42.1,446.8 42.1,449.7 40.3,449.7"/>
<polygon fill="#ffffff" points="42.7,453.3 44.4,453.3 44.4,458.6 42.7,458.6"/>
<polygon fill="#ffffff" points="52.1,450.9 61.6,450.9 61.6,458.6 52.1,458.6"/>
<polygon fill="#ff00ff" points="42.7,459.8 48.0,459.8 48.0,462.7 42.7,462.7"/>
<polygon fill="#00ff00" points="46.2,468.0 50.6,468.0 50.6,476.6 46.2,476.6"/>
<polygon fill="#8b0000" points="61.9,442.9 66.3,442.9 66.3,449.7 61.9,449.7"/>
<polygon fill="#00ff00" points="61.9,441.2 68.1,441.2 68.1,442.6 61.9,442.6"/>
<polygon fill="#ffa000" points="68.1,442.6 69.0,442.6 69.0,449.7 66.3,449.7"/>
<polygon fill="#ff00ff" points="62.1,468.6 69.0,468.6 69.0,483.7 62.1,483.7"/>
<polygon fill="#ffa000" points="69.0,441.4 70.8,441.4 70.8,446.2 80.8,446.2 80.8,449.7 69.0,449.7"/>
<polygon fill="#00ff00" points="90.9,441.4 99.9,441.4 99.9,449.5 90.9,449.5"/>
<polygon fill="#ffa000" points="81.4,450.3 90.5,450.3 90.5,458.2 81.4,458.2"/>
<polygon fill="#d8d8d8" points="114.5,442.0 119.2,442.0 119.2,448.5 114.5,448.5"/>
<polygon fill="#ffa000" points="119.8,449.7 129.0,449.7 129.0,457.4 119.8,457.4"/>
<polygon fill="#ffa000" points="72.3,468.0 81.4,468.0 81.4,476.3 72.3,476.3"/>
<polygon fill="#ff00ff" points="69.0,468.0 71.6,468.0 71.6,483.7 69.0,483.7"/>
<polygon fill="#ff00ff" points="120.4,475.9 129.0,475.9 129.0,483.7 120.4,483.7"/>
<polygon fill="#ff00ff" points="168.0,432.0 177.4,432.0 177.4,438.9 168.0,438.9"/>
<polygon fill="#ff00ff" points="178.0,432.0 187.1,432.0 187.1,447.4 178.0,447.4"/>
<polygon fill="#00ff00" points="169.2,462.1 174.5,465.7 169.2,465.7"/>
<polygon fill="#ff00ff" points="171.5,466.3 176.8,466.3 176.8,474.5 171.5,474.5"/>
<polygon fill="#ff00ff" points="159.5,474.5 177.4,474.5 177.4,483.7 159.5,483.7"/>
<polygon fill="#8b0000" points="178.0,473.9 180.7,473.9 180.7,483.7 169.2,483.7 169.2,481.0 177.4,481.0"/>
<polygon fill="#ff00ff" points="130.2,467.4 135.5,467.4 135.5,475.7 130.2,475.7"/>
<polygon fill="#ff00ff" points="129.0,475.7 133.5,475.7 133.5,483.7 129.0,483.7"/>
<polygon fill="#ff00ff" points="197.1,456.6 210.1,456.6 210.1,465.1 197.1,465.1"/></g>
<rect x="265" y="20.4" width="268.4" height="180.6" fill="#fff" stroke="#858585" stroke-width="1.2"/>
<path d="M265.0 201v-2.6M265.0 20.4v2.6" stroke="#858585" stroke-width="0.8"/>
<path d="M318.7 201v-2.6M318.7 20.4v2.6" stroke="#858585" stroke-width="0.8"/>
<path d="M372.4 201v-2.6M372.4 20.4v2.6" stroke="#858585" stroke-width="0.8"/>
<path d="M426.0 201v-2.6M426.0 20.4v2.6" stroke="#858585" stroke-width="0.8"/>
<path d="M479.7 201v-2.6M479.7 20.4v2.6" stroke="#858585" stroke-width="0.8"/>
<path d="M533.4 201v-2.6M533.4 20.4v2.6" stroke="#858585" stroke-width="0.8"/>
<path d="M265 201.0h2.6M533.4 201.0h-2.6" stroke="#858585" stroke-width="0.8"/>
<text x="261.8" y="203.4" text-anchor="end" class="tk">0.3</text>
<path d="M265 175.2h2.6M533.4 175.2h-2.6" stroke="#858585" stroke-width="0.8"/>
<text x="261.8" y="177.6" text-anchor="end" class="tk">0.4</text>
<path d="M265 149.4h2.6M533.4 149.4h-2.6" stroke="#858585" stroke-width="0.8"/>
<text x="261.8" y="151.8" text-anchor="end" class="tk">0.5</text>
<path d="M265 123.6h2.6M533.4 123.6h-2.6" stroke="#858585" stroke-width="0.8"/>
<text x="261.8" y="126.0" text-anchor="end" class="tk">0.6</text>
<path d="M265 97.8h2.6M533.4 97.8h-2.6" stroke="#858585" stroke-width="0.8"/>
<text x="261.8" y="100.2" text-anchor="end" class="tk">0.7</text>
<path d="M265 72.0h2.6M533.4 72.0h-2.6" stroke="#858585" stroke-width="0.8"/>
<text x="261.8" y="74.4" text-anchor="end" class="tk">0.8</text>
<path d="M265 46.2h2.6M533.4 46.2h-2.6" stroke="#858585" stroke-width="0.8"/>
<text x="261.8" y="48.6" text-anchor="end" class="tk">0.9</text>
<path d="M265 20.4h2.6M533.4 20.4h-2.6" stroke="#858585" stroke-width="0.8"/>
<text x="261.8" y="22.8" text-anchor="end" class="tk">1</text>
<polyline fill="none" stroke="#0a72c4" stroke-width="2.1" stroke-linejoin="round" points="265.0,35.1 318.7,28.7 372.4,32.5 426.0,20.4 479.7,32.8 533.4,27.4"/>
<circle cx="265.0" cy="35.1" r="2.4" fill="none" stroke="#0a72c4" stroke-width="1.4"/>
<circle cx="318.7" cy="28.7" r="2.4" fill="none" stroke="#0a72c4" stroke-width="1.4"/>
<circle cx="372.4" cy="32.5" r="2.4" fill="none" stroke="#0a72c4" stroke-width="1.4"/>
<circle cx="426.0" cy="20.4" r="2.4" fill="none" stroke="#0a72c4" stroke-width="1.4"/>
<circle cx="479.7" cy="32.8" r="2.4" fill="none" stroke="#0a72c4" stroke-width="1.4"/>
<circle cx="533.4" cy="27.4" r="2.4" fill="none" stroke="#0a72c4" stroke-width="1.4"/>
<polyline fill="none" stroke="#f4521c" stroke-width="2.1" stroke-linejoin="round" points="265.0,48.3 318.7,36.9 372.4,46.2 426.0,31.2 479.7,40.8 533.4,32.3"/>
<circle cx="265.0" cy="48.3" r="2.3" fill="#f4521c"/>
<circle cx="318.7" cy="36.9" r="2.3" fill="#f4521c"/>
<circle cx="372.4" cy="46.2" r="2.3" fill="#f4521c"/>
<circle cx="426.0" cy="31.2" r="2.3" fill="#f4521c"/>
<circle cx="479.7" cy="40.8" r="2.3" fill="#f4521c"/>
<circle cx="533.4" cy="32.3" r="2.3" fill="#f4521c"/>
<polyline fill="none" stroke="#ffab0a" stroke-width="2.1" stroke-linejoin="round" points="265.0,88.5 318.7,65.0 372.4,94.4 426.0,40.3 479.7,75.9 533.4,57.3"/>
<rect x="262.7" y="86.2" width="4.6" height="4.6" fill="#ffab0a"/>
<rect x="316.4" y="62.7" width="4.6" height="4.6" fill="#ffab0a"/>
<rect x="370.1" y="92.1" width="4.6" height="4.6" fill="#ffab0a"/>
<rect x="423.7" y="38.0" width="4.6" height="4.6" fill="#ffab0a"/>
<rect x="477.4" y="73.6" width="4.6" height="4.6" fill="#ffab0a"/>
<rect x="531.1" y="55.0" width="4.6" height="4.6" fill="#ffab0a"/>
<polyline fill="none" stroke="#90209c" stroke-width="2.1" stroke-linejoin="round" points="265.0,184.7 318.7,167.7 372.4,180.6 426.0,156.9 479.7,175.7 533.4,166.2"/>
<path d="M261.1 184.7L267.0 181.7V187.7Z" fill="#90209c" fill-opacity="0.35" stroke="#90209c" stroke-width="1.3" stroke-linejoin="round"/>
<path d="M314.8 167.7L320.7 164.7V170.7Z" fill="#90209c" fill-opacity="0.35" stroke="#90209c" stroke-width="1.3" stroke-linejoin="round"/>
<path d="M368.5 180.6L374.4 177.6V183.6Z" fill="#90209c" fill-opacity="0.35" stroke="#90209c" stroke-width="1.3" stroke-linejoin="round"/>
<path d="M422.1 156.9L428.0 153.9V159.9Z" fill="#90209c" fill-opacity="0.35" stroke="#90209c" stroke-width="1.3" stroke-linejoin="round"/>
<path d="M475.8 175.7L481.7 172.7V178.7Z" fill="#90209c" fill-opacity="0.35" stroke="#90209c" stroke-width="1.3" stroke-linejoin="round"/>
<path d="M529.5 166.2L535.4 163.2V169.2Z" fill="#90209c" fill-opacity="0.35" stroke="#90209c" stroke-width="1.3" stroke-linejoin="round"/>
<rect x="427.2" y="98" width="73.90000000000003" height="30.69999999999999" fill="#fff" stroke="#3a3a3a" stroke-width="0.7"/>
<path d="M439.5 102.5H461.3" stroke="#0a72c4" stroke-width="2"/>
<circle cx="450.4" cy="102.5" r="2.4" fill="none" stroke="#0a72c4" stroke-width="1.4"/>
<text x="463.6" y="104.7" class="lg">PCA</text>
<path d="M439.5 110H461.3" stroke="#f4521c" stroke-width="2"/>
<circle cx="450.4" cy="110.0" r="2.3" fill="#f4521c"/>
<text x="463.6" y="112.2" class="lg">LLE</text>
<path d="M439.5 117.5H461.3" stroke="#ffab0a" stroke-width="2"/>
<rect x="448.1" y="115.2" width="4.6" height="4.6" fill="#ffab0a"/>
<text x="463.6" y="119.7" class="lg">SAE</text>
<path d="M439.5 125H461.3" stroke="#90209c" stroke-width="2"/>
<path d="M446.5 125.0L452.4 122.0V128.0Z" fill="#90209c" fill-opacity="0.35" stroke="#90209c" stroke-width="1.3" stroke-linejoin="round"/>
<text x="463.6" y="127.2" class="lg">NC-SAE</text>
<rect x="258.1" y="204.9" width="13.9" height="8.0" fill="#f81418" stroke="#000" stroke-opacity="0.35" stroke-width="0.5"/>
<text x="265.0" y="211.20000000000002" text-anchor="middle" class="xl">Len</text>
<rect x="311.5" y="204.9" width="14.4" height="8.0" fill="#1048f0" stroke="#000" stroke-opacity="0.35" stroke-width="0.5"/>
<text x="318.7" y="211.20000000000002" text-anchor="middle" class="xl">Spw</text>
<rect x="366.1" y="204.9" width="12.5" height="8.0" fill="#b4f510" stroke="#000" stroke-opacity="0.35" stroke-width="0.5"/>
<text x="372.4" y="211.20000000000002" text-anchor="middle" class="xl">Fip</text>
<rect x="418.8" y="204.9" width="14.4" height="8.0" fill="#14f0ff" stroke="#000" stroke-opacity="0.35" stroke-width="0.5"/>
<text x="426.0" y="211.20000000000002" text-anchor="middle" class="xl">Can</text>
<rect x="472.6" y="204.9" width="14.3" height="8.0" fill="#ff9c10" stroke="#000" stroke-opacity="0.35" stroke-width="0.5"/>
<text x="479.7" y="211.20000000000002" text-anchor="middle" class="xl">Bar</text>
<rect x="526.4" y="204.9" width="14.0" height="8.0" fill="#ffff14" stroke="#000" stroke-opacity="0.35" stroke-width="0.5"/>
<text x="533.4" y="211.20000000000002" text-anchor="middle" class="xl">Fla</text>
<text x="399.2" y="219.8" text-anchor="middle" class="xt" textLength="80.5" lengthAdjust="spacingAndGlyphs">Different type of crops</text>
<text transform="translate(247.7 110.3) rotate(-90)" text-anchor="middle" class="yt" textLength="115.3" lengthAdjust="spacingAndGlyphs">Standard Deviation (Normalization)</text>
<rect x="266" y="279.8" width="268" height="185.09999999999997" fill="#fff" stroke="#858585" stroke-width="1.2"/>
<path d="M266.0 464.9v-2.6M266.0 279.8v2.6" stroke="#858585" stroke-width="0.8"/>
<path d="M319.6 464.9v-2.6M319.6 279.8v2.6" stroke="#858585" stroke-width="0.8"/>
<path d="M373.2 464.9v-2.6M373.2 279.8v2.6" stroke="#858585" stroke-width="0.8"/>
<path d="M426.8 464.9v-2.6M426.8 279.8v2.6" stroke="#858585" stroke-width="0.8"/>
<path d="M480.4 464.9v-2.6M480.4 279.8v2.6" stroke="#858585" stroke-width="0.8"/>
<path d="M534.0 464.9v-2.6M534.0 279.8v2.6" stroke="#858585" stroke-width="0.8"/>
<path d="M266 464.9h2.6M534 464.9h-2.6" stroke="#858585" stroke-width="0.8"/>
<text x="262.8" y="467.3" text-anchor="end" class="tk">0.3</text>
<path d="M266 438.5h2.6M534 438.5h-2.6" stroke="#858585" stroke-width="0.8"/>
<text x="262.8" y="440.9" text-anchor="end" class="tk">0.4</text>
<path d="M266 412.0h2.6M534 412.0h-2.6" stroke="#858585" stroke-width="0.8"/>
<text x="262.8" y="414.4" text-anchor="end" class="tk">0.5</text>
<path d="M266 385.6h2.6M534 385.6h-2.6" stroke="#858585" stroke-width="0.8"/>
<text x="262.8" y="388.0" text-anchor="end" class="tk">0.6</text>
<path d="M266 359.1h2.6M534 359.1h-2.6" stroke="#858585" stroke-width="0.8"/>
<text x="262.8" y="361.5" text-anchor="end" class="tk">0.7</text>
<path d="M266 332.7h2.6M534 332.7h-2.6" stroke="#858585" stroke-width="0.8"/>
<text x="262.8" y="335.1" text-anchor="end" class="tk">0.8</text>
<path d="M266 306.2h2.6M534 306.2h-2.6" stroke="#858585" stroke-width="0.8"/>
<text x="262.8" y="308.6" text-anchor="end" class="tk">0.9</text>
<path d="M266 279.8h2.6M534 279.8h-2.6" stroke="#858585" stroke-width="0.8"/>
<text x="262.8" y="282.2" text-anchor="end" class="tk">1</text>
<polyline fill="none" stroke="#0a72c4" stroke-width="2.1" stroke-linejoin="round" points="266.0,282.4 319.6,279.8 373.2,295.7 426.8,307.0 480.4,288.5 534.0,285.1"/>
<circle cx="266.0" cy="282.4" r="2.4" fill="none" stroke="#0a72c4" stroke-width="1.4"/>
<circle cx="319.6" cy="279.8" r="2.4" fill="none" stroke="#0a72c4" stroke-width="1.4"/>
<circle cx="373.2" cy="295.7" r="2.4" fill="none" stroke="#0a72c4" stroke-width="1.4"/>
<circle cx="426.8" cy="307.0" r="2.4" fill="none" stroke="#0a72c4" stroke-width="1.4"/>
<circle cx="480.4" cy="288.5" r="2.4" fill="none" stroke="#0a72c4" stroke-width="1.4"/>
<circle cx="534.0" cy="285.1" r="2.4" fill="none" stroke="#0a72c4" stroke-width="1.4"/>
<polyline fill="none" stroke="#f4521c" stroke-width="2.1" stroke-linejoin="round" points="266.0,293.0 319.6,294.1 373.2,316.6 426.8,304.4 480.4,297.3 534.0,280.3"/>
<circle cx="266.0" cy="293.0" r="2.3" fill="#f4521c"/>
<circle cx="319.6" cy="294.1" r="2.3" fill="#f4521c"/>
<circle cx="373.2" cy="316.6" r="2.3" fill="#f4521c"/>
<circle cx="426.8" cy="304.4" r="2.3" fill="#f4521c"/>
<circle cx="480.4" cy="297.3" r="2.3" fill="#f4521c"/>
<circle cx="534.0" cy="280.3" r="2.3" fill="#f4521c"/>
<polyline fill="none" stroke="#ffab0a" stroke-width="2.1" stroke-linejoin="round" points="266.0,317.9 319.6,294.6 373.2,362.6 426.8,331.9 480.4,333.5 534.0,321.6"/>
<rect x="263.7" y="315.6" width="4.6" height="4.6" fill="#ffab0a"/>
<rect x="317.3" y="292.3" width="4.6" height="4.6" fill="#ffab0a"/>
<rect x="370.9" y="360.3" width="4.6" height="4.6" fill="#ffab0a"/>
<rect x="424.5" y="329.6" width="4.6" height="4.6" fill="#ffab0a"/>
<rect x="478.1" y="331.2" width="4.6" height="4.6" fill="#ffab0a"/>
<rect x="531.7" y="319.3" width="4.6" height="4.6" fill="#ffab0a"/>
<polyline fill="none" stroke="#90209c" stroke-width="2.1" stroke-linejoin="round" points="266.0,424.7 319.6,428.4 373.2,459.1 426.8,426.8 480.4,437.7 534.0,423.4"/>
<path d="M262.1 424.7L268.0 421.7V427.7Z" fill="#90209c" fill-opacity="0.35" stroke="#90209c" stroke-width="1.3" stroke-linejoin="round"/>
<path d="M315.7 428.4L321.6 425.4V431.4Z" fill="#90209c" fill-opacity="0.35" stroke="#90209c" stroke-width="1.3" stroke-linejoin="round"/>
<path d="M369.3 459.1L375.2 456.1V462.1Z" fill="#90209c" fill-opacity="0.35" stroke="#90209c" stroke-width="1.3" stroke-linejoin="round"/>
<path d="M422.9 426.8L428.8 423.8V429.8Z" fill="#90209c" fill-opacity="0.35" stroke="#90209c" stroke-width="1.3" stroke-linejoin="round"/>
<path d="M476.5 437.7L482.4 434.7V440.7Z" fill="#90209c" fill-opacity="0.35" stroke="#90209c" stroke-width="1.3" stroke-linejoin="round"/>
<path d="M530.1 423.4L536.0 420.4V426.4Z" fill="#90209c" fill-opacity="0.35" stroke="#90209c" stroke-width="1.3" stroke-linejoin="round"/>
<rect x="422" y="366.8" width="76.19999999999999" height="31.599999999999966" fill="#fff" stroke="#3a3a3a" stroke-width="0.7"/>
<path d="M435 371.1H457" stroke="#0a72c4" stroke-width="2"/>
<circle cx="446.0" cy="371.1" r="2.4" fill="none" stroke="#0a72c4" stroke-width="1.4"/>
<text x="459" y="373.3" class="lg">PCA</text>
<path d="M435 378.7H457" stroke="#f4521c" stroke-width="2"/>
<circle cx="446.0" cy="378.7" r="2.3" fill="#f4521c"/>
<text x="459" y="380.9" class="lg">LLE</text>
<path d="M435 386.2H457" stroke="#ffab0a" stroke-width="2"/>
<rect x="443.7" y="383.9" width="4.6" height="4.6" fill="#ffab0a"/>
<text x="459" y="388.4" class="lg">SAE</text>
<path d="M435 393.4H457" stroke="#90209c" stroke-width="2"/>
<path d="M442.1 393.4L448.0 390.4V396.4Z" fill="#90209c" fill-opacity="0.35" stroke="#90209c" stroke-width="1.3" stroke-linejoin="round"/>
<text x="459" y="395.59999999999997" class="lg">NC-SAE</text>
<rect x="259.2" y="469.5" width="13.6" height="8.0" fill="#ff10f0" stroke="#000" stroke-opacity="0.35" stroke-width="0.5"/>
<text x="266.0" y="475.8" text-anchor="middle" class="xl">Duw</text>
<rect x="312.7" y="469.5" width="13.9" height="8.0" fill="#10f010" stroke="#000" stroke-opacity="0.35" stroke-width="0.5"/>
<text x="319.6" y="475.8" text-anchor="middle" class="xl">Oat</text>
<rect x="366.3" y="469.5" width="13.7" height="8.0" fill="#d8d8d8" stroke="#555" stroke-width="0.6"/>
<text x="373.2" y="475.8" text-anchor="middle" class="xl">Chf</text>
<rect x="419.7" y="469.5" width="14.2" height="8.0" fill="#ffffff" stroke="#555" stroke-width="0.6"/>
<text x="426.8" y="475.8" text-anchor="middle" class="xl">Mih</text>
<rect x="473.2" y="469.5" width="14.3" height="8.0" fill="#ff9c10" stroke="#000" stroke-opacity="0.35" stroke-width="0.5"/>
<text x="480.4" y="475.8" text-anchor="middle" class="xl">Bar</text>
<rect x="526.7" y="469.5" width="14.6" height="8.0" fill="#8c0a10" stroke="#000" stroke-opacity="0.35" stroke-width="0.5"/>
<text x="534.0" y="475.8" text-anchor="middle" class="xl">Mip</text>
<text x="400.0" y="484.6" text-anchor="middle" class="xt" textLength="80.5" lengthAdjust="spacingAndGlyphs">Different type of crops</text>
<text transform="translate(250.4 372.7) rotate(-90)" text-anchor="middle" class="yt" textLength="118" lengthAdjust="spacingAndGlyphs">Standard Deviation (Normalization)</text>
<text x="110.4" y="244.1" text-anchor="middle" class="cap" textLength="13.9" lengthAdjust="spacingAndGlyphs">(a)</text>
<text x="395.8" y="244.3" text-anchor="middle" class="cap" textLength="17.9" lengthAdjust="spacingAndGlyphs">(A)</text>
<text x="112.4" y="500.8" text-anchor="middle" class="cap" textLength="14.9" lengthAdjust="spacingAndGlyphs">(b)</text>
<text x="389.8" y="500.6" text-anchor="middle" class="cap" textLength="16.8" lengthAdjust="spacingAndGlyphs">(B)</text>
</svg>
</body></html>
